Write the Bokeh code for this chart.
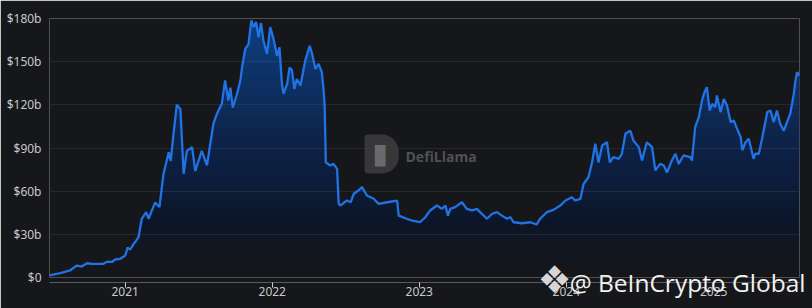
import numpy as np
import pandas as pd
from bokeh.plotting import figure
from bokeh.models import FixedTicker, Label, Range1d, Title
from bokeh.embed import file_html
from bokeh.resources import INLINE

# ---- data (TVL in billions USD), dates as day offsets from base_date ----
base_date = "2021-01-01"
day_offsets = [
    -188, -161, -137, -120, -108, -95, -83, -54, -45, -33, -25, -12, 0, 6, 12, 21, 29, 33,
    41, 52, 58, 74, 85, 95, 108, 113, 120, 128, 137, 145, 153, 166, 174, 190, 203, 219,
    228, 240, 248, 256, 261, 267, 277, 286, 290, 298, 306, 313, 319, 325, 331, 337, 343,
    352, 360, 368, 377, 383, 389, 393, 402, 408, 414, 420, 426, 435, 447, 458, 464, 472,
    480, 488, 492, 495, 498, 509, 517, 526, 530, 534, 550, 560, 567, 579, 588, 600, 617,
    629, 650, 675, 679, 699, 712, 732, 745, 757, 774, 786, 795, 801, 807, 819, 836, 848,
    861, 873, 881, 898, 911, 923, 935, 948, 956, 964, 985, 1006, 1021, 1030, 1047, 1063,
    1080, 1093, 1109, 1117, 1130, 1138, 1150, 1159, 1167, 1175, 1184, 1196, 1203, 1212,
    1225, 1233, 1242, 1254, 1262, 1275, 1283, 1295, 1308, 1316, 1328, 1337, 1345, 1357,
    1366, 1374, 1386, 1403, 1407, 1415, 1424, 1432, 1438, 1444, 1451, 1457, 1465, 1469,
    1478, 1486, 1494, 1503, 1511, 1519, 1528, 1532, 1540, 1548, 1556, 1560, 1564, 1573,
    1581, 1594, 1602, 1610, 1618, 1626, 1635, 1643, 1651, 1660, 1664, 1668, 1674,
]
tvl_billions = [
    1.4, 3.0, 4.9, 8.3, 7.6, 9.9, 9.5, 9.5, 11.0, 10.8, 12.5, 13.0, 15.3, 20.7, 19.3, 23.4, 26.3, 28.0,
    40.8, 45.4, 40.8, 52.0, 49.0, 72.0, 87.0, 81.0, 100.0, 120.0, 117.0, 72.0, 88.0, 90.6, 74.0, 88.0, 78.0, 107.0,
    114.0, 121.0, 137.0, 123.0, 132.0, 118.0, 127.0, 137.0, 146.0, 159.0, 162.0, 178.6, 174.0, 177.5, 167.0, 177.0, 164.7,
    155.5, 174.0, 166.0, 154.0, 160.0, 134.6, 127.7, 134.6, 146.0, 144.0, 131.0, 138.0, 133.4, 150.8, 161.0, 155.5, 145.0,
    148.5, 142.7, 132.0, 120.0, 80.0, 77.8, 79.0, 75.5, 51.2, 50.0, 53.5, 52.3, 58.0, 60.5, 62.8, 57.0, 54.7,
    51.2, 52.3, 53.5, 43.0, 40.8, 39.6, 38.4, 41.9, 46.6, 50.0, 47.7, 50.0, 43.0, 47.7, 48.9, 52.3, 47.7,
    46.6, 47.7, 45.4, 40.8, 44.3, 45.4, 43.0, 40.8, 41.9, 38.4, 37.7, 38.4, 36.8, 40.8, 45.4, 47.0,
    50.0, 53.5, 55.8, 53.5, 54.7, 65.0, 69.7, 80.0, 93.0, 80.0, 91.7, 94.0, 80.0, 83.6,
    82.5, 86.0, 100.0, 102.0, 95.0, 90.6, 81.3, 94.0, 90.6, 74.4, 79.0, 77.8, 73.0, 81.3,
    86.0, 79.0, 84.8, 83.6, 81.3, 104.5, 111.4, 123.0, 128.8, 132.3, 116.0, 120.7, 118.4, 126.5,
    114.9, 124.0, 119.5, 108.0, 109.0, 103.3, 97.5, 88.3, 94.0, 96.4, 87.0, 82.5, 86.0, 86.0,
    96.4, 115.0, 116.0, 108.0, 116.0, 106.8, 102.0, 108.0, 113.8, 127.7, 137.0, 142.7, 140.4,
]
y_ticks = [0, 30, 60, 90, 120, 150, 180]
y_tick_labels = ["$0", "$30b", "$60b", "$90b", "$120b", "$150b", "$180b"]
x_tick_years = ["2021-01-01", "2022-01-01", "2023-01-01", "2024-01-01", "2025-01-01"]
x_tick_labels = ["2021", "2022", "2023", "2024", "2025"]

BG = "#16171a"
BLUE = "#2172e5"

dates = pd.Timestamp(base_date) + pd.to_timedelta(day_offsets, unit="D")
vals = np.array(tvl_billions, dtype=float)

p = figure(width=812, height=308, output_backend="svg", toolbar_location=None,
           x_axis_type="datetime",
           x_range=Range1d(dates[0].to_pydatetime(), dates[-1].to_pydatetime()),
           y_range=Range1d(0, 180),
           min_border_left=49, min_border_right=13, min_border_top=18, min_border_bottom=31)
p.background_fill_color = BG
p.border_fill_color = BG
p.outline_line_color = None

# gradient fill built from stacked translucent layers
n_layers = 40
ymax = 180.0
thresholds = np.linspace(0, ymax, n_layers + 1)[:-1]
A_prev = 0.0
for t in thresholds:
    A = 0.58 * ((t + ymax / n_layers) / ymax) ** 1.25
    a = 1 - (1 - A) / (1 - A_prev)
    A_prev = A
    p.varea(x=dates, y1=np.minimum(vals, t), y2=vals, fill_color=BLUE, fill_alpha=float(a))

p.line(dates, vals, line_color=BLUE, line_width=2.3)

# axes
p.xgrid.grid_line_color = None
p.ygrid.grid_line_color = "#27282c"
p.ygrid.ticker = FixedTicker(ticks=y_ticks)

p.yaxis.ticker = FixedTicker(ticks=y_ticks)
p.yaxis.major_label_overrides = {t: l for t, l in zip(y_ticks, y_tick_labels)}
p.yaxis.axis_line_color = None
p.yaxis.major_tick_line_color = None
p.yaxis.minor_tick_line_color = None
p.yaxis.major_tick_out = 0
p.yaxis.major_label_standoff = 8

xt = [pd.Timestamp(d).value // 10**6 for d in x_tick_years]
p.xaxis.ticker = FixedTicker(ticks=xt)
p.xaxis.major_label_overrides = {t: l for t, l in zip(xt, x_tick_labels)}
p.xaxis.axis_line_color = "#5a5b5e"
p.xaxis.major_tick_line_color = "#d0d0d0"
p.xaxis.minor_tick_line_color = None
p.xaxis.major_tick_in = 0
p.xaxis.major_tick_out = 5
p.xaxis.major_label_standoff = -1

for ax in (p.xaxis, p.yaxis):
    ax.major_label_text_color = "#c8c8c8"
    ax.major_label_text_font = "Noto Sans"
    ax.major_label_text_font_size = "12px"

# screen-unit labels are placed relative to the plot frame (origin bottom-left)
# DefiLlama watermark
p.add_layout(Label(x=315, y=104, x_units="screen", y_units="screen", text=" ",
                   text_font_size="8px", background_fill_color="#3b3b3d", background_fill_alpha=0.9,
                   padding=(16, 16, 15, 15), border_radius=(4, 17, 17, 4)))
p.add_layout(Label(x=325, y=112, x_units="screen", y_units="screen", text="\u258a",
                   text_font_size="18px", text_color="#6a6a6c"))
p.add_layout(Label(x=356, y=112, x_units="screen", y_units="screen", text="DefiLlama",
                   text_font="Open Sans", text_font_style="bold", text_font_size="14px",
                   text_color="#505154"))

# BeInCrypto watermark: near-zero-height titles in the bottom panel (not clipped by the frame)
wm_logo = Title(text="\u2756", align="right", vertical_align="middle",
                offset=228, standoff=-41, text_font="DejaVu Sans", text_font_style="normal",
                text_font_size="38px", text_color="#d6d6d6")
wm_text = Title(text="@ BeInCrypto Global", align="right", vertical_align="middle",
                offset=-6, standoff=-40, text_font="Open Sans", text_font_style="normal",
                text_font_size="24.5px", text_color="#f2f2f2")
p.below = [wm_logo, wm_text] + list(p.below)

open("out.html", "w").write(file_html(p, INLINE))
